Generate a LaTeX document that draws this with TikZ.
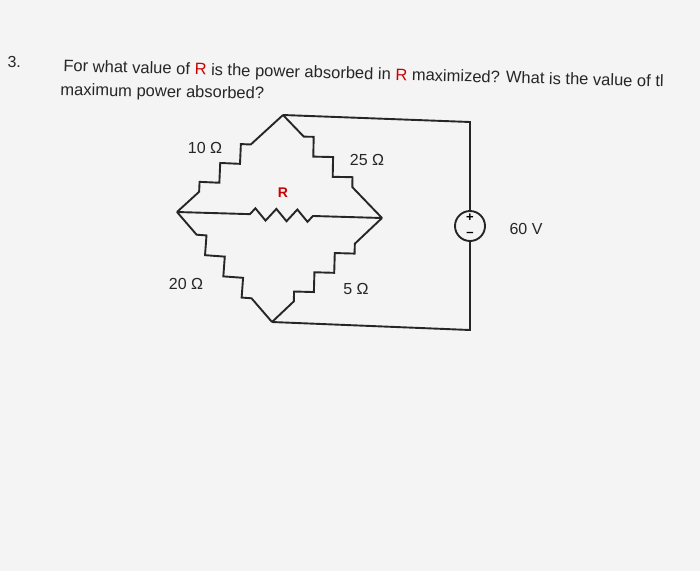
\documentclass[tikz,border=0pt]{standalone}
\usepackage{fontspec}
\setmainfont{Liberation Sans}
\usetikzlibrary{decorations.pathmorphing}
\begin{document}
\begin{tikzpicture}[x=1pt,y=-1pt,
  wire/.style={line width=1.9pt,draw=black!85,line join=miter},
  res/.style={wire,decorate,decoration={zigzag,segment length=28pt,amplitude=7pt,pre length=30pt,post length=30pt}},
  lbl/.style={font=\fontsize{16}{18}\selectfont,text=black!85}]
\fill[gray!9] (0,0) rectangle (700,571);
\useasboundingbox (0,0) rectangle (700,571);
\node[lbl,anchor=west] (num) at (4,62) {3.};
\node[lbl,anchor=west,rotate=-1.5,font=\fontsize{16.5}{19}\selectfont] (q1) at (60,67) {For what value of \textcolor{red!80!black}{R} is the power absorbed in \textcolor{red!80!black}{R} maximized? What is the value of tl};
\node[lbl,anchor=west,rotate=-1,font=\fontsize{16.5}{19}\selectfont] (q2) at (57,91) {maximum power absorbed?};
\coordinate (T) at (283,115);
\coordinate (L) at (177,212);
\coordinate (Rn) at (382,218);
\coordinate (B) at (272,322);
\coordinate (TR) at (470,122);
\coordinate (BR) at (470,330);
\node[circle,draw=black!85,line width=1.9pt,minimum size=30pt,inner sep=0pt] (src) at (470,226) {};
\node[font=\bfseries\fontsize{13}{13}\selectfont] (plus) at (470,218) {+};
\node[font=\bfseries\fontsize{13}{13}\selectfont] (minus) at (470,234) {--};
\draw[res] (L) -- (T);
\draw[res] (T) -- (Rn);
\draw[res] (L) -- (B);
\draw[res] (B) -- (Rn);
\draw[res,decoration={segment length=21pt,amplitude=6pt,pre length=73pt,post length=69pt}] (L) -- (Rn);
\draw[wire] (T) -- (TR) -- (src.north);
\draw[wire] (src.south) -- (BR) -- (B);
\node[lbl] (l10) at (205,148) {10 Ω};
\node[lbl] (l25) at (367,160) {25 Ω};
\node[lbl,text=red!80!black,font=\bfseries\fontsize{14}{16}\selectfont] (lR) at (283,193) {R};
\node[lbl] (l20) at (186,284) {20 Ω};
\node[lbl] (l5) at (356,289) {5 Ω};
\node[lbl] (l60) at (526,229) {60 V};
\end{tikzpicture}
\end{document}
